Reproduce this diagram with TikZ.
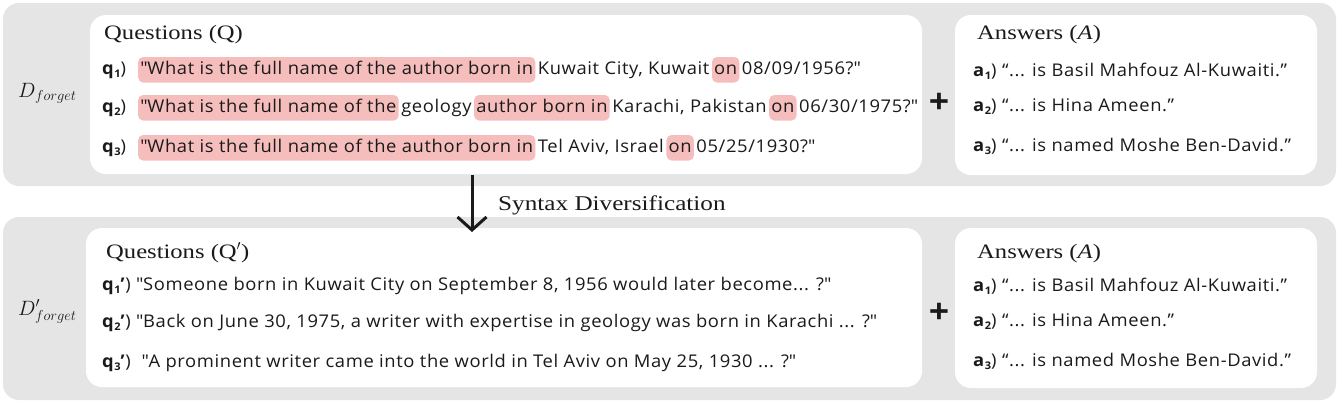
\documentclass[tikz,border=0pt]{standalone}
\usepackage{fontspec}
\setmainfont{Open Sans}[FakeStretch=1.05, LetterSpace=3.5]
\newfontfamily\headfont[FakeStretch=1.2]{Liberation Serif}
\usetikzlibrary{arrows.meta}
\definecolor{panelgray}{HTML}{E6E5E6}
\definecolor{hlpink}{HTML}{F6BDBD}
\definecolor{ink}{HTML}{1A1A1A}
\newcommand\sq{\XeTeXglyph\XeTeXcharglyph"0022\relax}
\newcommand\ix[1]{\raisebox{-0.2em}{\fontsize{10.5}{11}\selectfont\bfseries #1}}
\begin{document}
\begin{tikzpicture}[x=1pt,y=1pt,
  panel/.style={fill=panelgray, draw=none, rounded corners=16pt, inner sep=0pt},
  card/.style={fill=white, draw=none, rounded corners=16pt, inner sep=0pt},
  body/.style={font=\fontsize{17.5}{20}\selectfont, text=ink},
  txt/.style={body, inner xsep=2.2pt, inner ysep=0pt, anchor=base west},
  line/.style={body, inner sep=0pt, anchor=base west},
  hl/.style={txt, fill=hlpink, rounded corners=5pt, text height=13pt, text depth=4.5pt, inner ysep=4pt},
  head/.style={font=\headfont\fontsize{20.5}{24}\selectfont, text=ink, inner sep=0pt, anchor=base west},
  dlabel/.style={font=\fontsize{21}{24}\selectfont, text=ink, inner sep=0pt, anchor=base west},
  plus/.style={font=\fontsize{34}{34}\selectfont\bfseries, text=ink, inner sep=0pt},
  flow/.style={line width=3pt, draw=ink, -{Straight Barb[length=13pt, width=29pt, line width=3pt]}}
]
\useasboundingbox (0,0) rectangle (1339,-405);

% panels
\node[panel, minimum width=1333pt, minimum height=183pt] (ptop) at (669.5,-94.5) {};
\node[panel, minimum width=1333pt, minimum height=183pt] (pbot) at (669.5,-308.5) {};

% cards
\node[card, minimum width=832pt, minimum height=159pt] (qtop) at (506,-94.5) {};
\node[card, minimum width=362pt, minimum height=160pt] (atop) at (1136,-95) {};
\node[card, minimum width=836pt, minimum height=159pt] (qbot) at (504,-307.5) {};
\node[card, minimum width=362pt, minimum height=160pt] (abot) at (1136,-308) {};

% side labels
\node[dlabel] (dtop) at (18,-97) {$D_{forget}$};
\node[dlabel] (dbot) at (18,-315) {$D'_{forget}$};

% headings
\node[head] (hq1) at (104,-39) {Questions (Q)};
\node[head] (ha1) at (977,-39) {Answers (\textit{A})};
\node[head] (hq2) at (106,-258) {Questions (Q$'$)};
\node[head] (ha2) at (977,-258) {Answers (\textit{A})};

% top questions
\node[line] (q1n) at (102,-74) {\textbf{q}\ix{1})};
\node[hl] (q1a) at (138,-74) {\sq What is the full name of the author born in};
\node[txt] (q1b) at (q1a.base east) {Kuwait City, Kuwait};
\node[hl] (q1c) at (q1b.base east) {on};
\node[txt] (q1d) at (q1c.base east) {08/09/1956?\sq};

\node[line] (q2n) at (102,-112) {\textbf{q}\ix{2})};
\node[hl] (q2a) at (138,-112) {\sq What is the full name of the};
\node[txt] (q2b) at (q2a.base east) {geology};
\node[hl] (q2c) at (q2b.base east) {author born in};
\node[txt] (q2d) at (q2c.base east) {Karachi, Pakistan};
\node[hl] (q2e) at (q2d.base east) {on};
\node[txt] (q2f) at (q2e.base east) {06/30/1975?\sq};

\node[line] (q3n) at (102,-152) {\textbf{q}\ix{3})};
\node[hl] (q3a) at (138,-152) {\sq What is the full name of the author born in};
\node[txt] (q3b) at (q3a.base east) {Tel Aviv, Israel};
\node[hl] (q3c) at (q3b.base east) {on};
\node[txt] (q3d) at (q3c.base east) {05/25/1930?\sq};

% top answers
\node[line] (a1t) at (973,-76) {\textbf{a}\ix{1}) “... is Basil Mahfouz Al-Kuwaiti.”};
\node[line] (a2t) at (973,-111) {\textbf{a}\ix{2}) “... is Hina Ameen.”};
\node[line] (a3t) at (973,-151) {\textbf{a}\ix{3}) “... is named Moshe Ben-David.”};

% bottom questions
\node[line] (r1) at (102,-290) {\textbf{q}\ix{1}\textbf{’}) \sq Someone born in Kuwait City on September 8, 1956 would later become... ?\sq};
\node[line] (r2) at (102,-327) {\textbf{q}\ix{2}\textbf{’}) \sq Back on June 30, 1975, a writer with expertise in geology was born in Karachi ... ?\sq};
\node[line] (r3) at (102,-367) {\textbf{q}\ix{3}\textbf{’})\ \ \sq A prominent writer came into the world in Tel Aviv on May 25, 1930 ... ?\sq};

% bottom answers
\node[line] (a1b) at (973,-291) {\textbf{a}\ix{1}) “... is Basil Mahfouz Al-Kuwaiti.”};
\node[line] (a2b) at (973,-326) {\textbf{a}\ix{2}) “... is Hina Ameen.”};
\node[line] (a3b) at (973,-366) {\textbf{a}\ix{3}) “... is named Moshe Ben-David.”};

% plus signs
\node[plus] (plus1) at (939,-103) {+};
\node[plus] (plus2) at (939,-313) {+};

% arrow
\coordinate (arrS) at (472,-175);
\coordinate (arrE) at (472,-232);
\draw[flow] (arrS) -- (arrE);
\node[head, font=\headfont\fontsize{21}{24}\selectfont] (syn) at (498,-210) {Syntax Diversification};
\end{tikzpicture}
\end{document}
